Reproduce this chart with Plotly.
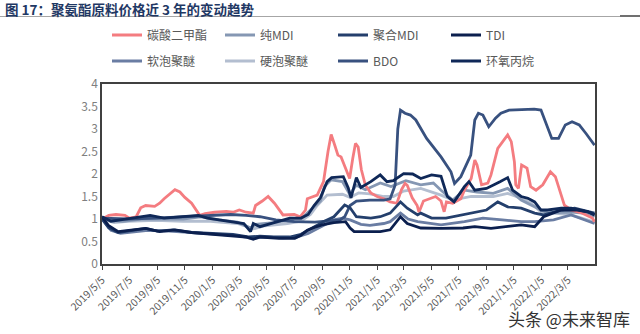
import plotly.graph_objects as go

# Tick dates along the x axis (every two months)
tick_dates = ["2019-05-05", "2019-07-05", "2019-09-05", "2019-11-05", "2020-01-05", "2020-03-05",
              "2020-05-05", "2020-07-05", "2020-09-05", "2020-11-05", "2021-01-05", "2021-03-05",
              "2021-05-05", "2021-07-05", "2021-09-05", "2021-11-05", "2022-01-05", "2022-03-05"]
tick_labels = ["2019/5/5", "2019/7/5", "2019/9/5", "2019/11/5", "2020/1/5", "2020/3/5",
               "2020/5/5", "2020/7/5", "2020/9/5", "2020/11/5", "2021/1/5", "2021/3/5",
               "2021/5/5", "2021/7/5", "2021/9/5", "2021/11/5", "2022/1/5", "2022/3/5"]

# 碳酸二甲酯
dmc_dates = ["2019-05-05", "2019-05-20", "2019-06-05", "2019-06-25", "2019-07-05", "2019-07-20", "2019-07-30",
             "2019-08-10", "2019-08-30", "2019-09-10", "2019-09-20", "2019-10-01", "2019-10-14", "2019-10-25",
             "2019-11-05", "2019-11-20", "2019-12-01", "2019-12-08", "2019-12-20", "2020-01-10", "2020-02-05",
             "2020-02-20", "2020-03-05", "2020-03-20", "2020-04-05", "2020-04-10", "2020-04-25", "2020-05-08",
             "2020-05-22", "2020-06-03", "2020-06-10", "2020-07-05", "2020-07-18", "2020-07-30", "2020-08-03",
             "2020-08-25", "2020-09-08", "2020-09-18", "2020-09-25", "2020-10-03", "2020-10-10", "2020-10-17",
             "2020-10-25", "2020-11-05", "2020-11-12", "2020-11-18", "2020-11-24", "2020-12-01", "2020-12-10",
             "2020-12-22", "2021-01-05", "2021-01-20", "2021-02-03", "2021-02-18", "2021-02-28", "2021-03-08",
             "2021-03-13", "2021-03-24", "2021-04-04", "2021-04-08", "2021-04-18", "2021-05-01", "2021-05-15",
             "2021-05-27", "2021-06-03", "2021-06-08", "2021-06-22", "2021-07-10", "2021-07-18", "2021-08-02",
             "2021-08-10", "2021-08-15", "2021-08-25", "2021-09-08", "2021-09-15", "2021-09-30", "2021-10-22",
             "2021-10-30", "2021-11-06", "2021-11-09", "2021-11-15", "2021-11-22", "2021-12-04", "2021-12-12",
             "2021-12-24", "2022-01-08", "2022-01-25", "2022-02-05", "2022-02-18", "2022-02-25", "2022-03-12",
             "2022-04-06", "2022-04-28", "2022-05-03"]
dmc_vals = [1.0, 1.08, 1.1, 1.08, 1.02, 1.05, 1.25,
            1.3, 1.28, 1.35, 1.45, 1.55, 1.65, 1.6,
            1.48, 1.35, 1.2, 1.08, 1.12, 1.15, 1.17,
            1.15, 1.2, 1.15, 1.13, 1.3, 1.4, 1.5,
            1.35, 1.2, 1.09, 1.1, 1.05, 1.2, 1.45,
            1.53, 1.83, 2.5, 2.88, 2.64, 2.42, 2.38,
            2.16, 1.9, 2.35, 2.68, 2.6, 2.1, 1.75,
            1.58, 1.5, 1.45, 1.38, 1.35, 1.65, 1.79,
            1.75, 1.47, 1.3, 1.15, 1.4, 1.45, 1.5,
            1.4, 1.16, 1.38, 1.35, 1.45, 1.64, 1.9,
            2.31, 2.2, 1.76, 1.8, 1.98, 2.57, 2.87,
            2.72, 2.27, 1.76, 1.68, 2.2, 2.13, 1.72,
            1.64, 1.76, 2.05, 1.94, 1.53, 1.31, 1.2,
            1.13, 1.02, 0.94]

# 纯MDI
pmdi_dates = ["2019-05-05", "2019-05-25", "2019-06-20", "2019-08-01", "2019-09-15", "2019-11-01", "2019-12-10",
              "2020-01-20", "2020-03-01", "2020-03-30", "2020-04-10", "2020-05-20", "2020-06-25", "2020-07-20",
              "2020-08-10", "2020-09-01", "2020-09-10", "2020-09-25", "2020-10-20", "2020-11-05", "2020-11-20",
              "2020-12-10", "2021-01-12", "2021-02-05", "2021-03-10", "2021-04-12", "2021-05-10", "2021-05-27",
              "2021-06-22", "2021-07-18", "2021-08-15", "2021-09-20", "2021-10-22", "2021-11-21", "2021-12-15",
              "2022-01-19", "2022-02-20", "2022-03-20", "2022-04-20", "2022-05-03"]
pmdi_vals = [1.02, 0.96, 0.95, 1.0, 1.0, 1.0, 1.05,
             0.98, 0.93, 0.8, 0.88, 0.92, 0.98, 1.0,
             1.2, 1.4, 1.72, 1.87, 1.83, 1.55, 1.75,
             1.65, 1.8, 1.72, 1.85, 1.76, 1.8, 1.64,
             1.42, 1.64, 1.6, 1.57, 1.68, 1.42, 1.3,
             1.13, 1.15, 1.15, 1.12, 1.05]

# 聚合MDI
polymdi_dates = ["2019-05-05", "2019-05-20", "2019-06-10", "2019-07-05", "2019-08-10", "2019-09-05", "2019-10-10",
                 "2019-11-20", "2020-01-10", "2020-02-20", "2020-03-25", "2020-04-20", "2020-05-20", "2020-06-25",
                 "2020-07-20", "2020-08-05", "2020-08-20", "2020-09-10", "2020-10-01", "2020-10-25", "2020-11-06",
                 "2020-11-20", "2020-12-22", "2021-01-12", "2021-02-03", "2021-02-26", "2021-03-13", "2021-04-05",
                 "2021-04-12", "2021-05-06", "2021-06-07", "2021-07-15", "2021-09-05", "2021-09-30", "2021-10-22",
                 "2021-11-21", "2021-12-21", "2022-01-10", "2022-02-18", "2022-03-20", "2022-04-18", "2022-05-03"]
polymdi_vals = [1.0, 0.8, 0.7, 0.74, 0.79, 0.73, 0.76,
                0.7, 0.68, 0.66, 0.6, 0.62, 0.6, 0.6,
                0.66, 0.75, 0.85, 0.95, 1.05, 1.31, 1.25,
                1.05, 1.02, 1.05, 1.13, 1.38, 1.24, 1.09,
                1.13, 1.02, 1.02, 1.09, 1.2, 1.38, 1.27,
                1.24, 1.13, 1.09, 1.2, 1.24, 1.16, 1.13]

# TDI
tdi_dates = ["2019-05-05", "2019-05-20", "2019-06-10", "2019-07-05", "2019-08-10", "2019-09-10", "2019-10-14",
             "2019-11-20", "2020-01-05", "2020-02-10", "2020-03-20", "2020-04-05", "2020-04-20", "2020-06-01",
             "2020-07-06", "2020-07-20", "2020-08-03", "2020-08-20", "2020-09-05", "2020-10-01", "2020-10-27",
             "2020-11-06", "2020-11-15", "2021-01-12", "2021-02-03", "2021-02-26", "2021-03-13", "2021-04-12",
             "2021-05-27", "2021-07-15", "2021-08-10", "2021-09-15", "2021-11-21", "2021-12-21", "2022-01-10",
             "2022-02-18", "2022-03-27", "2022-04-18", "2022-05-03"]
tdi_vals = [1.05, 0.85, 0.72, 0.75, 0.79, 0.72, 0.76,
            0.7, 0.66, 0.64, 0.6, 0.55, 0.6, 0.57,
            0.57, 0.64, 0.75, 0.82, 0.87, 0.92, 0.94,
            0.8, 0.72, 0.72, 0.76, 1.05, 0.9, 0.8,
            0.79, 0.8, 0.83, 0.79, 0.87, 0.83, 1.05,
            1.2, 1.2, 1.16, 1.09]

# 软泡聚醚
soft_dates = ["2019-05-05", "2019-05-25", "2019-06-15", "2019-07-15", "2019-08-15", "2019-10-01", "2019-11-15",
              "2020-01-15", "2020-03-01", "2020-04-01", "2020-05-01", "2020-06-10", "2020-07-10", "2020-08-05",
              "2020-09-01", "2020-10-01", "2020-10-20", "2020-11-06", "2020-11-30", "2020-12-20", "2021-01-20",
              "2021-02-03", "2021-02-26", "2021-03-15", "2021-04-05", "2021-05-27", "2021-07-18", "2021-08-28",
              "2021-10-10", "2021-11-21", "2021-12-21", "2022-02-01", "2022-03-12", "2022-04-10", "2022-05-03"]
soft_vals = [1.0, 0.75, 0.68, 0.72, 0.75, 0.73, 0.7,
             0.66, 0.63, 0.57, 0.6, 0.58, 0.6, 0.68,
             0.82, 0.98, 1.02, 0.98, 0.88, 0.86, 0.9,
             0.94, 1.13, 1.0, 0.94, 0.87, 0.94, 1.02,
             0.98, 0.94, 0.94, 0.98, 1.09, 0.98, 0.9]

# 硬泡聚醚
rigid_dates = ["2019-05-05", "2019-06-01", "2019-07-01", "2019-09-01", "2019-11-01", "2020-01-01", "2020-03-01",
               "2020-04-05", "2020-05-01", "2020-06-20", "2020-07-20", "2020-08-10", "2020-08-25", "2020-09-16",
               "2020-10-20", "2020-11-06", "2020-11-25", "2020-12-20", "2021-01-20", "2021-02-10", "2021-03-05",
               "2021-04-12", "2021-05-27", "2021-06-22", "2021-08-02", "2021-09-20", "2021-10-22", "2021-11-10",
               "2021-12-13", "2022-01-04", "2022-03-12", "2022-04-18", "2022-05-03"]
rigid_vals = [1.0, 0.92, 0.95, 0.97, 0.95, 0.95, 0.9,
              0.78, 0.85, 0.9, 0.95, 1.1, 1.3, 1.53,
              1.55, 1.48, 1.58, 1.56, 1.5, 1.5, 1.62,
              1.68, 1.53, 1.42, 1.5, 1.5, 1.57, 1.5,
              1.35, 1.16, 1.09, 0.98, 0.93]

# BDO
bdo_dates = ["2019-05-05", "2019-07-01", "2019-09-01", "2019-11-01", "2020-01-01", "2020-02-15", "2020-03-20",
             "2020-04-20", "2020-05-25", "2020-07-05", "2020-08-20", "2020-09-20", "2020-10-15", "2020-10-25",
             "2020-11-06", "2020-11-20", "2020-12-20", "2021-01-20", "2021-02-03", "2021-02-14", "2021-02-20",
             "2021-02-26", "2021-03-08", "2021-03-20", "2021-04-01", "2021-04-25", "2021-05-27", "2021-06-18",
             "2021-06-26", "2021-07-10", "2021-08-01", "2021-08-10", "2021-08-18", "2021-08-28", "2021-09-10",
             "2021-09-25", "2021-10-07", "2021-10-25", "2021-12-20", "2022-01-04", "2022-01-19", "2022-01-28",
             "2022-02-12", "2022-02-27", "2022-03-14", "2022-03-30", "2022-04-14", "2022-05-03"]
bdo_vals = [1.02, 1.0, 1.02, 1.05, 1.08, 1.1, 1.08,
            1.05, 0.98, 0.94, 0.93, 0.95, 0.98, 1.05,
            1.3, 1.4, 1.42, 1.42, 1.45, 1.75, 3.0,
            3.42, 3.35, 3.31, 3.2, 2.79, 2.38, 2.05,
            1.79, 1.94, 2.42, 3.2, 3.35, 3.31, 3.05,
            3.24, 3.35, 3.42, 3.44, 3.42, 3.05, 2.79,
            2.79, 3.09, 3.16, 3.09, 2.9, 2.64]

# 环氧丙烷
po_dates = ["2019-05-05", "2019-05-25", "2019-06-15", "2019-07-10", "2019-08-20", "2019-09-20", "2019-10-20",
            "2019-12-05", "2019-12-25", "2020-01-25", "2020-02-15", "2020-03-15", "2020-03-30", "2020-04-05",
            "2020-04-20", "2020-05-25", "2020-06-25", "2020-07-20", "2020-08-05", "2020-08-18", "2020-09-01",
            "2020-09-16", "2020-09-26", "2020-10-22", "2020-11-02", "2020-11-08", "2020-11-20", "2020-11-30",
            "2020-12-22", "2021-01-12", "2021-01-27", "2021-02-10", "2021-03-05", "2021-03-25", "2021-04-12",
            "2021-05-06", "2021-05-27", "2021-06-10", "2021-06-25", "2021-07-18", "2021-07-28", "2021-08-10",
            "2021-09-05", "2021-10-05", "2021-10-22", "2021-11-02", "2021-11-21", "2021-12-06", "2021-12-21",
            "2022-01-04", "2022-01-19", "2022-02-18", "2022-03-12", "2022-03-27", "2022-04-18", "2022-05-03"]
po_vals = [1.05, 0.95, 0.98, 1.02, 1.08, 1.02, 1.05,
           1.08, 1.02, 0.98, 0.94, 0.9, 0.72, 0.9,
           0.83, 0.94, 1.02, 1.02, 1.1, 1.3, 1.47,
           1.83, 1.92, 1.94, 1.69, 1.47, 1.92, 1.7,
           1.83, 1.98, 1.83, 1.85, 2.01, 2.0, 1.9,
           1.98, 1.95, 1.5, 1.38, 1.72, 1.83, 1.64,
           1.68, 1.83, 1.92, 1.64, 1.5, 1.46, 1.38,
           1.2, 1.2, 1.24, 1.24, 1.2, 1.16, 1.1]

series = [
    ("碳酸二甲酯", dmc_dates, dmc_vals, "#F47C80", "legend"),
    ("纯MDI", pmdi_dates, pmdi_vals, "#8597B3", "legend"),
    ("聚合MDI", polymdi_dates, polymdi_vals, "#243F6C", "legend"),
    ("TDI", tdi_dates, tdi_vals, "#0B1F4E", "legend"),
    ("软泡聚醚", soft_dates, soft_vals, "#6A7DA3", "legend2"),
    ("硬泡聚醚", rigid_dates, rigid_vals, "#B3BED0", "legend2"),
    ("BDO", bdo_dates, bdo_vals, "#38517F", "legend2"),
    ("环氧丙烷", po_dates, po_vals, "#0F2858", "legend2"),
]

# Draw order: lighter lines underneath, dark lines on top
draw_order = [5, 1, 4, 0, 6, 2, 3, 7]

fig = go.Figure()
for i in draw_order:
    name, xs, ys, color, lg = series[i]
    fig.add_trace(go.Scatter(x=xs, y=ys, name=name, mode="lines",
                             line=dict(color=color, width=2.8), legend=lg, legendrank=i))

font_family = "Noto Sans CJK SC, Noto Sans, sans-serif"
L, R, T, B = 102, 45, 84, 70
W, H = 640, 334
pw, ph = W - L - R, H - T - B


def px(x):
    return (x - L) / pw


def py(y):
    return (H - B - y) / ph


legend_common = dict(orientation="h", xanchor="left", yanchor="middle",
                     font=dict(family=font_family, size=12, color="#595959"),
                     bgcolor="rgba(0,0,0,0)", entrywidth=68, entrywidthmode="pixels",
                     traceorder="normal", itemwidth=30)

fig.update_layout(
    width=W, height=H,
    margin=dict(l=L, r=R, t=T, b=B),
    paper_bgcolor="white", plot_bgcolor="white",
    font=dict(family=font_family, color="#595959"),
    showlegend=True,
    legend=dict(x=px(107), y=py(35), **legend_common),
    legend2=dict(x=px(107), y=py(61), **legend_common),
    xaxis=dict(type="date", range=["2019-05-05", "2022-05-04"],
               tickvals=tick_dates, ticktext=tick_labels, tickangle=-45,
               tickfont=dict(size=10.5, color="#595959"),
               ticks="outside", ticklen=4, tickcolor="#404040",
               showline=True, linecolor="#404040", linewidth=1.5, mirror=True,
               showgrid=False, zeroline=False),
    yaxis=dict(range=[0, 4], dtick=0.5, tickfont=dict(size=12, color="#7F7F7F"),
               showline=True, linecolor="#404040", linewidth=1.5, mirror=True,
               showgrid=False, zeroline=False, ticks=""),
)

fig.add_annotation(text="<b>图 17：聚氨酯原料价格近 3 年的变动趋势</b>", xref="paper", yref="paper",
                   x=px(4), y=py(9), xanchor="left", yanchor="middle", showarrow=False,
                   borderpad=0, font=dict(family=font_family, size=13.5, color="#1F3864"))
fig.add_shape(type="line", xref="paper", yref="paper", x0=px(0), x1=px(620), y0=py(16.5), y1=py(16.5),
              line=dict(color="#A6A6A6", width=1.2))
fig.add_shape(type="line", xref="paper", yref="paper", x0=px(620), x1=px(640), y0=py(16), y1=py(16),
              line=dict(color="#404040", width=1.5))
fig.add_annotation(text="头条 @未来智库", xref="paper", yref="paper",
                   x=px(632), y=py(318), xanchor="right", yanchor="middle", showarrow=False,
                   font=dict(family=font_family, size=17, color="#333333"))

fig.write_html("out.html")
